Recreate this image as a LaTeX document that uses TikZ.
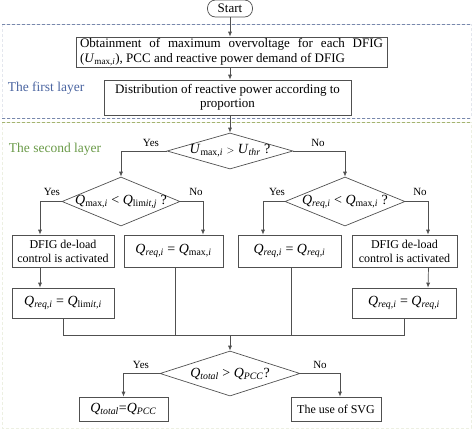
\documentclass[tikz,border=0pt]{standalone}
\usepackage{fontspec}
\setmainfont{Liberation Serif}
\usetikzlibrary{shapes.geometric,arrows.meta}
\definecolor{linec}{HTML}{505050}
\definecolor{bluetxt}{HTML}{4A64A0}
\definecolor{greentxt}{HTML}{6A9A48}
\definecolor{blueline}{HTML}{7888AC}
\definecolor{greenline}{HTML}{A4B470}
\newcommand\sbs[1]{\textsubscript{#1}}
\newcommand\qi{\textit{Q}}
\newcommand\ui{\textit{U}}
\begin{document}
\begin{tikzpicture}[x=1pt,y=-1pt,
  font=\fontsize{12}{14}\selectfont,
  box/.style={draw=linec, line width=0.7pt, rectangle, inner sep=0pt, align=center},
  dia/.style={draw=linec, line width=0.7pt, diamond, inner sep=0pt},
  arr/.style={draw=linec, line width=0.7pt, -{Latex[length=5pt,width=4pt]}},
  ln/.style={draw=linec, line width=0.7pt},
  yn/.style={font=\fontsize{11}{13}\selectfont, inner sep=0pt},
  mtxt/.style={font=\fontsize{14}{16}\selectfont, inner sep=0pt},
  big/.style={font=\fontsize{13}{14.5}\selectfont},
  fr/.style={dash pattern=on 3pt off 2pt}
]
\useasboundingbox (0,0) rectangle (474,429);
% layer frames
\draw[blueline, fr, line width=0.6pt, opacity=0.2] (2,24) rectangle (471,118);
\draw[blueline, fr, line width=0.7pt] (2,24) -- (471,24) (2,118) -- (471,118);
\draw[greenline, fr, line width=0.6pt, opacity=0.2] (2,122) rectangle (471,428);
\draw[greenline, fr, line width=0.7pt] (2,122) -- (471,122);
\node[font=\fontsize{13.5}{15}\selectfont, text=bluetxt, inner sep=0pt] (l1) at (46,88) {The first layer};
\node[font=\fontsize{13.5}{15}\selectfont, text=greentxt, inner sep=0pt] (l2) at (55,149) {The second layer};

% top part
\node[box, big, rounded corners=8pt, minimum width=45pt, minimum height=17pt] (start) at (230,8.5) {Start};
\node[box, big, minimum width=311pt, minimum height=30pt, text width=303pt, align=justify, font=\fontsize{13}{14.5}\selectfont] (b1) at (231.5,52)
  {Obtainment of maximum overvoltage for each DFIG (\ui\sbs{max,\textit{i}}), PCC and reactive power demand of DFIG};
\node[box, big, minimum width=247pt, minimum height=35pt] (b2) at (227.5,97.5)
  {Distribution of reactive power according to\\proportion};

% decision 1
\node[dia, minimum width=126pt, minimum height=36pt] (d1) at (230,151) {};
\node[mtxt] (t1) at (d1) {\ui\sbs{max,\textit{i}} {\normalsize$>$} \ui\sbs{\textit{thr}} ?};

% decision 2 & 3
\node[dia, minimum width=118pt, minimum height=49pt] (d2) at (121,201.5) {};
\node[mtxt] (t2) at (d2) {\qi\sbs{max,\textit{i}} < \qi\sbs{lim\textit{it,j}} ?};
\node[dia, minimum width=120pt, minimum height=49pt] (d3) at (345,201.5) {};
\node[mtxt] (t3) at (d3) {\qi\sbs{\textit{req,i}} < \qi\sbs{max,\textit{i}} ?};

% row 1 boxes
\node[box, minimum width=102pt, minimum height=32pt] (ba) at (63,251) {DFIG de-load\\control is activated};
\node[box, mtxt, minimum width=99pt, minimum height=32pt] (bb) at (173.5,251) {\qi\sbs{\textit{req,i}} = \qi\sbs{max,\textit{i}}};
\node[box, mtxt, minimum width=103pt, minimum height=32pt] (bc) at (289.5,251) {\qi\sbs{\textit{req,i}} = \qi\sbs{\textit{req,i}}};
\node[box, minimum width=105pt, minimum height=32pt] (bd) at (404.5,251) {DFIG de-load\\control is activated};

% row 2 boxes
\node[box, mtxt, minimum width=102pt, minimum height=30pt] (be) at (63,303) {\qi\sbs{\textit{req,i}} = \qi\sbs{lim\textit{it,i}}};
\node[box, mtxt, minimum width=104pt, minimum height=30pt] (bf) at (404,303) {\qi\sbs{\textit{req,i}} = \qi\sbs{\textit{req,i}}};

% decision 4
\coordinate (m) at (230,335);
\node[dia, minimum width=140pt, minimum height=45pt] (d4) at (230,373.5) {};
\node[mtxt] (t4) at (d4) {\qi\sbs{\textit{total}} > \qi\sbs{\textit{PCC}}?};

\node[box, mtxt, minimum width=89pt, minimum height=24pt] (bg) at (123.5,409) {\qi\sbs{\textit{total}}=\qi\sbs{\textit{PCC}}};
\node[box, minimum width=90pt, minimum height=24pt] (bh) at (336,409) {The use of SVG};

% connectors
\draw[arr] (start) -- (start |- b1.north);
\draw[arr] (b1.south -| start) -- (b2.north -| start);
\draw[arr] (b2.south -| d1.north) -- (d1.north);
\draw[arr] (d1.west) -| (d2.north);
\draw[arr] (d1.east) -| (d3.north);
\draw[arr] (d2.west) -| ([xshift=-23pt]ba.north);
\draw[arr] (d2.east) -| ([xshift=29.5pt]bb.north);
\draw[arr] (d3.west) -| ([xshift=-26.5pt]bc.north);
\draw[arr] (d3.east) -| ([xshift=23.5pt]bd.north);
\draw[arr] ([xshift=-23pt]ba.south) -- ([xshift=-23pt]be.north);
\draw[arr] ([xshift=24pt]bd.south) -- ([xshift=24pt]bf.north);
\draw[ln] (be.south) -- (be.south |- m) -- (bf.south |- m) -- (bf.south);
\draw[ln] ([xshift=2pt]bb.south) -- ([xshift=2pt]bb.south |- m);
\draw[ln] ([xshift=2pt]bc.south) -- ([xshift=2pt]bc.south |- m);
\draw[arr] (m) -- (d4.north);
\draw[arr] (d4.west) -| (bg.north);
\draw[arr] (d4.east) -| ([xshift=4pt]bh.north);

% yes / no labels
\node[yn] (y1) at (151,143) {Yes};
\node[yn] (n1) at (318,143) {No};
\node[yn] (y2) at (52,192) {Yes};
\node[yn] (n2) at (196,192) {No};
\node[yn] (y3) at (277,192) {Yes};
\node[yn] (n3) at (420,192) {No};
\node[yn] (y4) at (141,365) {Yes};
\node[yn] (n4) at (320,365) {No};
\end{tikzpicture}
\end{document}
